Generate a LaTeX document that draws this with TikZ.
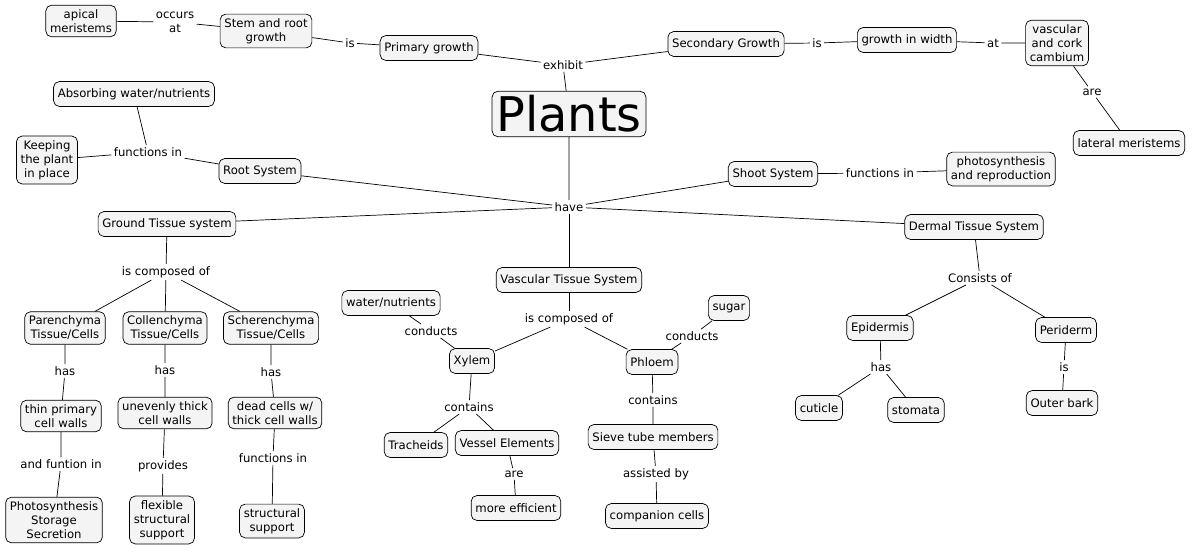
\documentclass[tikz,border=0pt]{standalone}
\usepackage{fontspec}
\setmainfont{DejaVu Sans}
\begin{document}
\begin{tikzpicture}[x=0.025cm,y=-0.025cm,
  concept/.style={draw=black, fill=blue!4!gray!8, rounded corners=4pt, align=center,
    font=\fontsize{8.3pt}{10pt}\selectfont, inner sep=3pt, minimum height=0.62cm},
  link/.style={align=center, font=\fontsize{8.3pt}{10pt}\selectfont, inner sep=1.5pt, fill=white},
  every path/.style={line width=0.5pt}]
\useasboundingbox (0,0) rectangle (1193,552);
		% concepts
		\node[concept] (plants) at (569,114) {\fontsize{34pt}{36pt}\selectfont Plants};
		\node[concept] (apical) at (81,21) {apical\\meristems};
		\node[concept] (stem) at (266,31) {Stem and root\\growth};
		\node[concept] (primary) at (429,48) {Primary growth};
		\node[concept] (secondary) at (726,44) {Secondary Growth};
		\node[concept] (width) at (907,40) {growth in width};
		\node[concept] (cambium) at (1057,43) {vascular\\and cork\\cambium};
		\node[concept] (lateral) at (1129,143) {lateral meristems};
		\node[concept] (absorb) at (134,94) {Absorbing water/nutrients};
		\node[concept] (keeping) at (47,160) {Keeping\\the plant\\in place};
		\node[concept] (root) at (260,171) {Root System};
		\node[concept] (shoot) at (773,174) {Shoot System};
		\node[concept] (photo) at (1001,169) {photosynthesis\\and reproduction};
		\node[concept] (ground) at (167,224) {Ground Tissue system};
		\node[concept] (dermal) at (974,227) {Dermal Tissue System};
		\node[concept] (vascular) at (569,280) {Vascular Tissue System};
		\node[concept] (paren) at (65,328) {Parenchyma\\Tissue/Cells};
		\node[concept] (collen) at (165,328) {Collenchyma\\Tissue/Cells};
		\node[concept] (scheren) at (271,328) {Scherenchyma\\Tissue/Cells};
		\node[concept] (thin) at (61,416) {thin primary\\cell walls};
		\node[concept] (uneven) at (165,413) {unevenly thick\\cell walls};
		\node[concept] (dead) at (275,413) {dead cells w/\\thick cell walls};
		\node[concept] (pss) at (54,520) {Photosynthesis\\Storage\\Secretion};
		\node[concept] (flex) at (162,520) {flexible\\structural\\support};
		\node[concept] (struct) at (272,521) {structural\\support};
		\node[concept] (water) at (391,303) {water/nutrients};
		\node[concept] (sugar) at (729,308) {sugar};
		\node[concept] (xylem) at (472,361) {Xylem};
		\node[concept] (phloem) at (652,362) {Phloem};
		\node[concept] (trach) at (416,445) {Tracheids};
		\node[concept] (vessel) at (507,443) {Vessel Elements};
		\node[concept] (efficient) at (516,508) {more efficient};
		\node[concept] (sieve) at (653,437) {Sieve tube members};
		\node[concept] (companion) at (657,516) {companion cells};
		\node[concept] (epi) at (880,328) {Epidermis};
		\node[concept] (peri) at (1066,330) {Periderm};
		\node[concept] (cuticle) at (819,408) {cuticle};
		\node[concept] (stomata) at (916,410) {stomata};
		\node[concept] (bark) at (1062,403) {Outer bark};
		% linking phrases
		\node[link] (occurs) at (175,22) {occurs\\at};
		\node[link] (isP) at (350,43) {is};
		\node[link] (exhibit) at (563,65) {exhibit};
		\node[link] (isS) at (817,43) {is};
		\node[link] (at) at (993,43) {at};
		\node[link] (are) at (1092,92) {are};
		\node[link] (funcR) at (148,152) {functions in};
		\node[link] (have) at (569,207) {have};
		\node[link] (funcS) at (880,173) {functions in};
		\node[link] (compG) at (166,272) {is composed of};
		\node[link] (compV) at (569,319) {is composed of};
		\node[link] (consists) at (980,278) {Consists of};
		\node[link] (has1) at (65,371) {has};
		\node[link] (has2) at (165,370) {has};
		\node[link] (has3) at (271,372) {has};
		\node[link] (andfun) at (61,464) {and funtion in};
		\node[link] (provides) at (163,466) {provides};
		\node[link] (funcD) at (273,458) {functions in};
		\node[link] (condX) at (431,331) {conducts};
		\node[link] (condP) at (692,336) {conducts};
		\node[link] (contX) at (469,407) {contains};
		\node[link] (contP) at (653,400) {contains};
		\node[link] (areV) at (514,474) {are};
		\node[link] (assist) at (656,474) {assisted by};
		\node[link] (hasE) at (881,367) {has};
		\node[link] (isP2) at (1064,367) {is};
		% connectors
		\draw (apical) -- (occurs) -- (stem) -- (isP) -- (primary) -- (exhibit) -- (plants);
		\draw (exhibit) -- (secondary) -- (isS) -- (width) -- (at) -- (cambium) -- (are) -- (lateral);
		\draw (absorb) -- (funcR) -- (root) -- (have) -- (plants);
		\draw (keeping) -- (funcR);
		\draw (have) -- (shoot) -- (funcS) -- (photo);
		\draw (have) -- (ground) -- (compG);
		\draw (have) -- (dermal) -- (consists);
		\draw (have) -- (vascular) -- (compV);
		\draw (compG) -- (paren) -- (has1) -- (thin) -- (andfun) -- (pss);
		\draw (compG) -- (collen) -- (has2) -- (uneven) -- (provides) -- (flex);
		\draw (compG) -- (scheren) -- (has3) -- (dead) -- (funcD) -- (struct);
		\draw (compV) -- (xylem) -- (condX) -- (water);
		\draw (compV) -- (phloem) -- (condP) -- (sugar);
		\draw (xylem) -- (contX) -- (trach);
		\draw (contX) -- (vessel) -- (areV) -- (efficient);
		\draw (phloem) -- (contP) -- (sieve) -- (assist) -- (companion);
		\draw (consists) -- (epi) -- (hasE) -- (cuticle);
		\draw (hasE) -- (stomata);
		\draw (consists) -- (peri) -- (isP2) -- (bark);
\end{tikzpicture}
\end{document}
